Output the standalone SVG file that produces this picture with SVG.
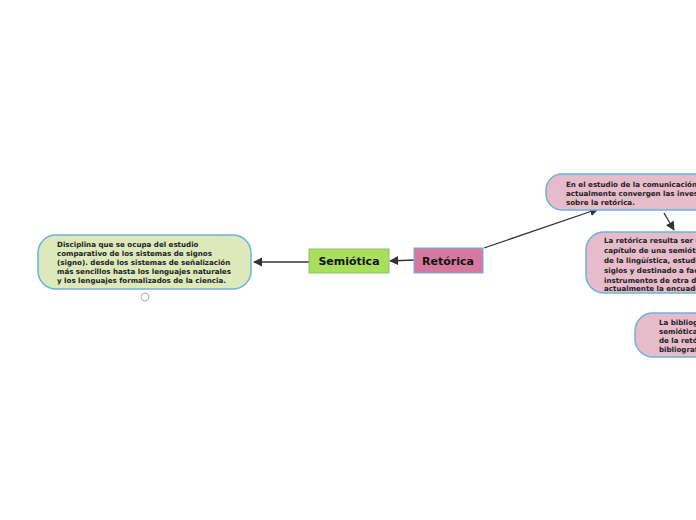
<svg xmlns="http://www.w3.org/2000/svg" width="696" height="520" viewBox="0 0 696 520">
<defs>
<style>
.t{font-family:"DejaVu Sans",sans-serif;font-size:7.1px;font-weight:bold;fill:#222}
.m{font-family:"DejaVu Sans",sans-serif;font-size:11px;font-weight:bold;fill:#111}
.c{fill:none;stroke:#333;stroke-width:1.3}
.p{fill:#e6bccb;stroke:#6bb2de;stroke-width:1.5}
</style>
<marker id="a" viewBox="0 0 10 10" refX="9" refY="5" markerWidth="7" markerHeight="7" orient="auto"><path d="M0,0L10,5L0,10z" fill="#333"/></marker>
</defs>
<rect width="696" height="520" fill="#fff"/>
<g id="connectors">
<path class="c" d="M414,260 L390,261" marker-end="url(#a)"/>
<path class="c" d="M309,262 L254,262" marker-end="url(#a)"/>
<path class="c" d="M484,248 L598,209" marker-end="url(#a)"/>
<path class="c" d="M664,213 L674,230" marker-end="url(#a)"/>
</g>
<g id="n1">
<rect x="38" y="235" width="213" height="54" rx="18" fill="#dde8bb" stroke="#6bb2de" stroke-width="1.5"/>
<text class="t" x="57" y="247">Disciplina que se ocupa del estudio</text>
<text class="t" x="57" y="256">comparativo de los sistemas de signos</text>
<text class="t" x="57" y="265">(signo). desde los sistemas de señalización</text>
<text class="t" x="57" y="274">más sencillos hasta los lenguajes naturales</text>
<text class="t" x="57" y="283">y los lenguajes formalizados de la ciencia.</text>
<circle cx="145" cy="297" r="4" fill="#fff" stroke="#aaa"/>
</g>
<g id="semiotica">
<rect x="309" y="249" width="80" height="24" fill="#a8df5c" stroke="#8bbf6b"/>
<text class="m" x="349" y="265" text-anchor="middle">Semiótica</text>
</g>
<g id="retorica">
<rect x="414" y="248" width="69" height="25" fill="#d5799e" stroke="#6bb2de"/>
<text class="m" x="448" y="265" text-anchor="middle">Retórica</text>
</g>
<g id="n2">
<rect x="546" y="174" width="170" height="36" rx="16" class="p"/>
<text class="t" x="566" y="187">En el estudio de la comunicación</text>
<text class="t" x="566" y="196">actualmente convergen las investigaciones</text>
<text class="t" x="566" y="205">sobre la retórica.</text>
</g>
<g id="n3">
<rect x="586" y="232" width="130" height="61" rx="18" class="p"/>
<text class="t" x="604" y="243">La retórica resulta ser el</text>
<text class="t" x="604" y="253">capítulo de una semiótica</text>
<text class="t" x="604" y="263">de la lingüística, estudiada</text>
<text class="t" x="604" y="273">siglos y destinado a facilitar</text>
<text class="t" x="604" y="283">instrumentos de otra disciplina</text>
<text class="t" x="604" y="291">actualmente la encuadra</text>
</g>
<g id="n4">
<rect x="635" y="313" width="90" height="44" rx="18" class="p"/>
<text class="t" x="659" y="325">La bibliografía</text>
<text class="t" x="659" y="334">semiótica</text>
<text class="t" x="659" y="343">de la retórica</text>
<text class="t" x="659" y="352">bibliografía</text>
</g>
</svg>
